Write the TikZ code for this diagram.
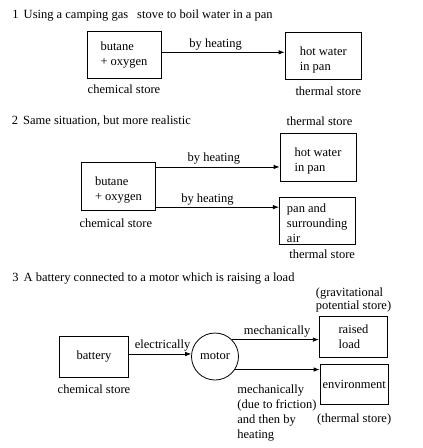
\documentclass[tikz,border=0pt]{standalone}
\usepackage{fontspec}
\setmainfont{Liberation Serif}
\usetikzlibrary{arrows.meta,positioning}

\begin{document}
\begin{tikzpicture}[x=1pt, y=-1pt, >={Latex[length=6pt,width=4.5pt]},
        font=\fontsize{12.5}{15}\selectfont,
        store/.style={rectangle, draw, line width=0.8pt, align=left, inner sep=1pt},
        tag/.style={inner sep=2pt},
        heading/.style={anchor=base west, inner sep=0pt},
        flow/.style={->, line width=0.8pt}]
    \useasboundingbox (0,0) rectangle (423,448);
    % 1 camping gas stove
    \node (headA) [heading] at (12.3,18.3) {1\hspace{5pt}Using a camping gas\hspace{9pt}stove to boil water in a pan};
    \node (fuelA) [store, minimum width=74, minimum height=47] at (124,55) {butane\\+ oxygen};
    \node (waterA) [store, minimum width=76.5, minimum height=47, text height=33pt] at (323.3,55.8) {hot water\\in pan};
    \node (chemA) [tag, below=4pt of fuelA] {chemical store};
    \node (thermA) [tag, below=5.4pt of waterA, xshift=5pt] {thermal store};
    \draw[flow] ([yshift=2.7pt]fuelA.east) -- ([yshift=2.7pt]fuelA.east -| waterA.west) node[tag, above, pos=0.44] {by heating};
    % 2 more realistic
    \node (headB) [heading] at (11.7,124.7) {2\hspace{5pt}Same situation, but more realistic};
    \node (fuelB) [store, minimum width=73.6, minimum height=47.7, text height=30.5pt] at (118.5,186.2) {butane\\+ oxygen};
    \node (waterB) [store, minimum width=76, minimum height=48, text height=31.5pt] at (318,157.2) {hot water\\in pan};
    \node (panB) [store, minimum width=75.7, minimum height=46.7, text height=44pt] at (317.2,220.7) {pan and\\surrounding\\air};
    \node (chemB) [tag, below=5.7pt of fuelB, xshift=-2.7pt] {chemical store};
    \node (thermB) [tag, above=5.3pt of waterB, xshift=1.5pt] {thermal store};
    \node (thermC) [tag, below=3.3pt of panB, xshift=5pt] {thermal store};
    \draw[flow] ([yshift=-5pt]fuelB.north east) -- ([yshift=-5pt]fuelB.north east -| waterB.west) node[tag, above, pos=0.47] {by heating};
    \draw[flow] ([yshift=3.3pt]fuelB.south east) -- ([yshift=3.3pt]fuelB.south east -| panB.west) node[tag, above, pos=0.42] {by heating};
    % 3 battery and motor
    \node (headC) [heading] at (12.3,281) {3\hspace{5pt}A battery connected to a motor which is raising a load};
    \node (battery) [store, minimum width=69.4, minimum height=41.3] at (94,356.7) {battery};
    \node (motor) [circle, draw, line width=0.8pt, minimum size=47, inner sep=0pt] at (215,356.5) {motor};
    \node (load) [store, minimum width=68.4, minimum height=40.6] at (353.5,337) {raised\\load};
    \node (env) [store, minimum width=68.3, minimum height=40.3] at (354.2,384.3) {environment};
    \node (chemD) [tag, below=5pt of battery] {chemical store};
    \node (gravD) [tag, above=2pt of load, align=left] {(gravitational\\[-1.7pt]potential store)};
    \node (thermD) [tag, below=7pt of env] {(thermal store)};
    \draw[flow] (battery.east |- motor.174) -- (motor.174) node[tag, above, pos=0.54] {electrically};
    \draw[flow] (motor.45) -- (motor.45 -| load.west) node[tag, above, pos=0.52] {mechanically};
    \draw[flow] (motor.-33) -- (motor.-33 -| env.west) node[tag, at start, anchor=north west, yshift=-13pt, align=left] {mechanically\\(due to friction)\\and then by\\heating};
\end{tikzpicture}
\end{document}
